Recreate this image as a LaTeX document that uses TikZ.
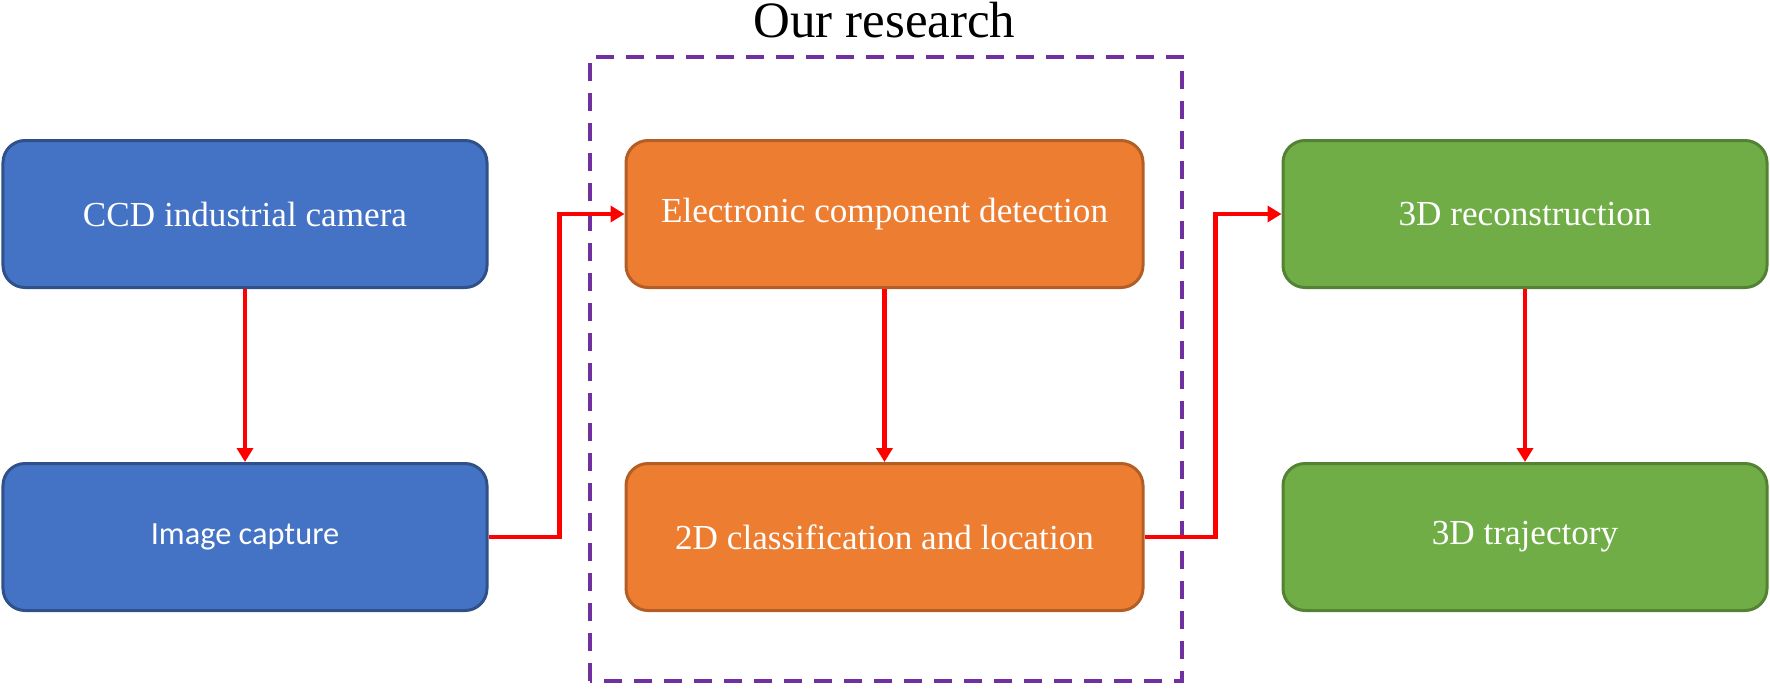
\documentclass[tikz,border=0pt]{standalone}
\usepackage{fontspec}
\setmainfont{Liberation Serif}
\newfontfamily\capfont{Carlito}
\usetikzlibrary{arrows.meta}
\definecolor{boxblue}{HTML}{4472C4}
\definecolor{boxorange}{HTML}{ED7D31}
\definecolor{boxgreen}{HTML}{70AD47}
\definecolor{researchpurple}{HTML}{7030A0}
\tikzset{
	stagebox/.style={rounded corners=2.2mm, minimum height=1.47cm, line width=0.3mm, text=white, font=\fontsize{10}{12}\selectfont},
	bluebox/.style={stagebox, fill=boxblue, draw=boxblue!70!black, minimum width=4.84cm},
	orangebox/.style={stagebox, fill=boxorange, draw=boxorange!75!black, minimum width=5.17cm},
	greenbox/.style={stagebox, fill=boxgreen, draw=boxgreen!75!black, minimum width=4.84cm},
	flow/.style={line width=0.45mm, color=red, -{Triangle[length=1.4mm, width=1.6mm]}}
}

\begin{document}
\begin{tikzpicture}
			%%%%% START %%%%%
			
			\useasboundingbox (0, 0) rectangle (17.7, 6.89);
			
			\node[bluebox] (cam) at (2.45, 4.75) {CCD industrial camera};
			\node[bluebox] (cap) at (2.45, 1.52) {\capfont\fontsize{9.2}{12}\selectfont Image capture};
			
			\node[orangebox] (det) at (8.845, 4.75) {Electronic component detection};
			\node[orangebox] (cls) at (8.845, 1.52) {2D classification and location};
			
			\node[greenbox] (rec) at (15.25, 4.75) {3D reconstruction};
			\node[greenbox] (traj) at (15.25, 1.52) {3D trajectory};
			
			\draw[line width=0.45mm, color=researchpurple, dash pattern=on 1.8mm off 1.2mm] (5.9, 0.08) rectangle (11.82, 6.32);
			\node[font=\fontsize{14.5}{17}\selectfont] (our) at (8.845, 6.69) {Our research};
			
			\draw[flow] (cam) -- (cap);
			\draw[flow] (det) -- (cls);
			\draw[flow] (rec) -- (traj);
			\draw[flow] (cap.east) -- ++(0.71, 0) |- (det.west);
			\draw[flow] (cls.east) -- ++(0.71, 0) |- (rec.west);
			
			%%%%% END %%%%%
		\end{tikzpicture}
\end{document}
